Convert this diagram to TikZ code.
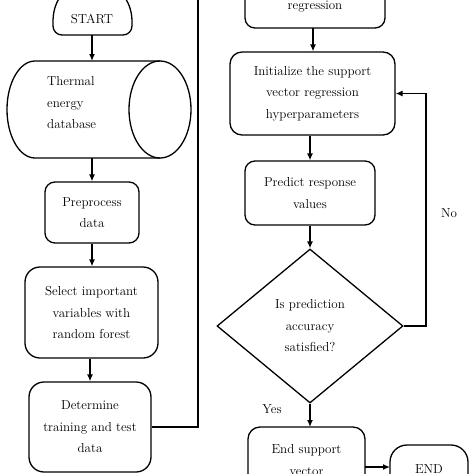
\documentclass[tikz,border=0pt]{standalone}
\usetikzlibrary{arrows.meta,shapes.geometric}
\newcommand\dtxt{\fontsize{13}{21.5}\selectfont}
\begin{document}
\begin{tikzpicture}[x=1pt,y=-1pt,
  shp/.style={draw=black,line width=1.3pt},
  box/.style={shp,rounded corners=11pt,align=center,inner sep=0pt,font=\dtxt},
  lbl/.style={align=center,inner sep=0pt,font=\dtxt},
  arr/.style={line width=1.3pt,-{Latex[length=7pt,width=6pt]}},
  ln/.style={line width=1.3pt}]
\useasboundingbox (0,0) rectangle (474,474);
\clip (0,0) rectangle (474,474);
\fill[white] (0,0) rectangle (474,474);

% START terminal (cut at top)
\draw[shp] (92,-20) .. controls (60,-15) and (53,5) .. (53,22) -- (53,26)
  arc[start angle=180,end angle=270,radius=9pt] -- (123,35)
  arc[start angle=270,end angle=360,radius=9pt] -- (132,22)
  .. controls (132,5) and (124,-15) .. (92,-20);
\node[lbl] (start) at (92,19) {START};
\coordinate (startb) at (92,35);

% Cylinder database
\draw[shp] (160,61) -- (35,61) arc[start angle=90,end angle=270,x radius=28pt,y radius=48.5pt] -- (160,158);
\draw[shp] (160,109.5) ellipse[x radius=31pt,y radius=48.5pt];
\node[lbl,align=left,anchor=west] (db) at (47,103) {Thermal\\energy\\database};
\coordinate (dbt) at (92,61);
\coordinate (dbb) at (92,158);

% Left column boxes
\node[box,rounded corners=10pt,minimum width=94pt,minimum height=61pt] (pre) at (92,212.5) {Preprocess\\data};
\node[box,rounded corners=15pt,minimum width=133pt,minimum height=91pt] (sel) at (91.5,312.5) {Select important\\variables with\\random forest};
\node[box,rounded corners=15pt,minimum width=122pt,minimum height=90pt] (det) at (90,427) {Determine\\training and test\\data};

% Right column top box (cut at top)
\draw[shp] (245,-20) -- (245,18) arc[start angle=180,end angle=270,radius=10pt] -- (375,28)
  arc[start angle=270,end angle=360,radius=10pt] -- (385,-20);
\node[lbl] (svr) at (315,7) {regression};
\coordinate (svrb) at (313,28);
\coordinate (topin) at (198,-20);

\node[box,rounded corners=12pt,minimum width=165pt,minimum height=83pt] (init) at (312.5,93.5) {Initialize the support\\vector regression\\hyperparameters};
\node[box,rounded corners=10pt,minimum width=130pt,minimum height=64pt] (pred) at (310,193) {Predict response\\values};
\node[shp,diamond,minimum width=186pt,minimum height=154pt,inner sep=0pt,align=center,font=\dtxt] (dia) at (310,326) {Is prediction\\accuracy\\satisfied?};

% End support vector box (cut at bottom)
\draw[shp] (248,500) -- (248,439) arc[start angle=180,end angle=90,radius=12pt] -- (353,427)
  arc[start angle=90,end angle=0,radius=12pt] -- (365,500);
\node[lbl] (endsvr) at (306.5,460) {End support\\vector};
\coordinate (endt) at (310,427);
\coordinate (endr) at (365,467);

% END terminal (cut at bottom)
\draw[shp] (390,500) -- (390,462) arc[start angle=180,end angle=90,radius=17pt] -- (451,445)
  arc[start angle=90,end angle=0,radius=17pt] -- (468,500);
\node[lbl] (fin) at (429,469) {END};
\coordinate (finl) at (390,467);

% Connectors
\draw[arr] (startb) -- (dbt);
\draw[arr] (dbb) -- (dbb |- pre.north);
\draw[arr] (pre.south) -- (pre.south |- sel.north);
\draw[arr] (sel.south -| det.north) -- (det.north);
\draw[ln] (det.east) -| (topin);
\draw[arr] (svrb) -- (svrb |- init.north);
\draw[arr] (init.south -| pred.north) -- (pred.north);
\draw[arr] (pred.south) -- (dia.north);
\coordinate (loop) at (426,326);
\draw[arr] (dia.east) -- (loop) |- (init.east);
\node[lbl] (no) at (449,213) {No};
\draw[arr] (dia.south) -- (endt);
\node[lbl] (yes) at (272,409) {Yes};
\draw[arr] (endr) -- (finl);
\end{tikzpicture}
\end{document}
